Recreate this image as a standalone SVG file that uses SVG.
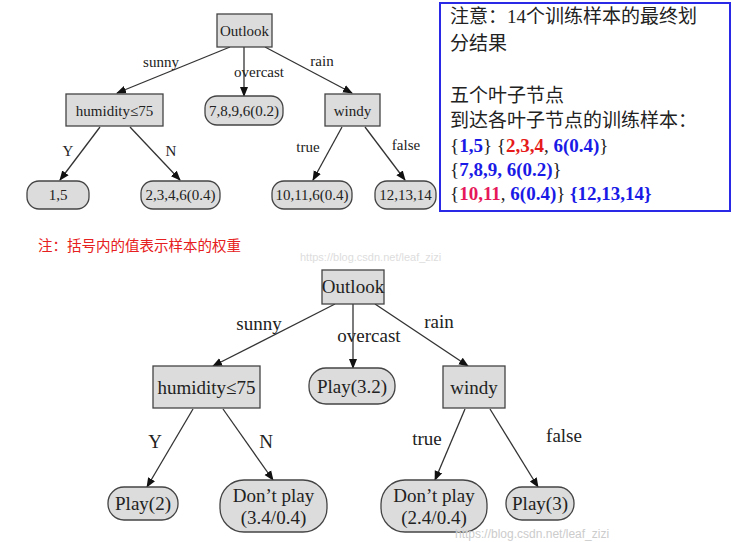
<svg xmlns="http://www.w3.org/2000/svg" width="733" height="542" viewBox="0 0 733 542">
<style>
.b{fill:#dcdcdc;stroke:#444;stroke-width:1.3}
.t{font-family:"Liberation Serif",serif;fill:#222;text-anchor:middle}
.s{font-size:15px}.L{font-size:19px}
.e{stroke:#333;stroke-width:1.3;fill:none;marker-end:url(#a)}
.cn{font-family:"Liberation Serif","Noto Sans CJK SC",serif;font-size:19px;fill:#222}
.bl{fill:#1a1ae6;font-weight:bold}.rd{fill:#e61a1a;font-weight:bold}.pk{fill:#e6185a;font-weight:bold}
</style>
<defs><marker id="a" markerWidth="10" markerHeight="10" refX="9" refY="5" orient="auto" markerUnits="userSpaceOnUse"><path d="M0,1 L10,5 L0,9 Z" fill="#111"/></marker></defs>
<rect width="733" height="542" fill="#fff"/>
<g id="connectors">
<path class="e" d="M230,47 L117,93"/><path class="e" d="M244,47 L244,96"/><path class="e" d="M265,47 L352,93"/>
<path class="e" d="M100,127 L60,180"/><path class="e" d="M130,127 L180,180"/>
<path class="e" d="M342,127 L313,180"/><path class="e" d="M365,127 L405,180"/>
<path class="e" d="M335,304 L213,366"/><path class="e" d="M353,304 L353,368"/><path class="e" d="M375,304 L468,366"/>
<path class="e" d="M193,409 L147,487"/><path class="e" d="M223,409 L273,480"/>
<path class="e" d="M465,409 L435,480"/><path class="e" d="M490,409 L538,487"/>
<g class="t s"><text x="161" y="67">sunny</text><text x="259" y="77">overcast</text><text x="322" y="66">rain</text><text x="68" y="156">Y</text><text x="171" y="156">N</text><text x="308" y="152">true</text><text x="406" y="150">false</text></g>
<g class="t L"><text x="259" y="330">sunny</text><text x="369" y="342">overcast</text><text x="439" y="328">rain</text><text x="155" y="448">Y</text><text x="266" y="448">N</text><text x="427" y="445">true</text><text x="564" y="442">false</text></g>
</g>
<g id="t-outlook"><rect class="b" x="217" y="14" width="55" height="33"/><text class="t s" x="244.5" y="36">Outlook</text></g>
<g id="t-humidity"><rect class="b" x="66" y="94" width="97" height="32"/><text class="t s" x="114.5" y="116">humidity≤75</text></g>
<g id="t-over"><rect class="b" x="205" y="96" width="78" height="29" rx="12"/><text class="t s" x="244" y="116">7,8,9,6(0.2)</text></g>
<g id="t-windy"><rect class="b" x="325" y="94" width="55" height="32"/><text class="t s" x="352.5" y="116">windy</text></g>
<g id="t-l1"><rect class="b" x="27" y="181" width="62" height="28" rx="12"/><text class="t s" x="58" y="200">1,5</text></g>
<g id="t-l2"><rect class="b" x="141" y="181" width="79" height="28" rx="12"/><text class="t s" x="180.5" y="200">2,3,4,6(0.4)</text></g>
<g id="t-l3"><rect class="b" x="272" y="181" width="80" height="28" rx="12"/><text class="t s" x="312" y="200">10,11,6(0.4)</text></g>
<g id="t-l4"><rect class="b" x="375" y="181" width="61" height="28" rx="12"/><text class="t s" x="405.5" y="200">12,13,14</text></g>
<g id="note"><rect x="440" y="3" width="290" height="208" fill="#fff" stroke="#2a2ae6" stroke-width="2"/>
<text class="cn" x="450" y="23">注意：14个训练样本的最终划</text>
<text class="cn" x="450" y="50">分结果</text>
<text class="cn" x="450" y="102">五个叶子节点</text>
<text class="cn" x="450" y="127">到达各叶子节点的训练样本：</text>
<text class="cn" x="450" y="152">{<tspan class="bl">1,5</tspan>} {<tspan class="rd">2,3,4</tspan>, <tspan class="bl">6(0.4)</tspan>}</text>
<text class="cn" x="450" y="176">{<tspan class="bl">7,8,9, 6(0.2)</tspan>}</text>
<text class="cn" x="450" y="200">{<tspan class="pk">10,11</tspan>, <tspan class="bl">6(0.4)</tspan>} <tspan class="bl">{12,13,14}</tspan></text>
</g>
<text x="38" y="251" font-family="'Noto Sans CJK SC',sans-serif" font-size="14.5" fill="#e62020">注：括号内的值表示样本的权重</text>
<text x="300" y="261" font-family="'Liberation Sans',sans-serif" font-size="11" fill="#ddd">https://blog.csdn.net/leaf_zizi</text>
<g id="b-outlook"><rect class="b" x="322" y="270" width="62" height="34"/><text class="t L" x="353" y="293">Outlook</text></g>
<g id="b-humidity"><rect class="b" x="153" y="366" width="107" height="42"/><text class="t L" x="206.5" y="394">humidity≤75</text></g>
<g id="b-play32"><rect class="b" x="309" y="368" width="86" height="36" rx="17"/><text class="t L" x="352" y="393">Play(3.2)</text></g>
<g id="b-windy"><rect class="b" x="443" y="366" width="62" height="42"/><text class="t L" x="474" y="394">windy</text></g>
<g id="b-play2"><rect class="b" x="108" y="487" width="70" height="33" rx="16"/><text class="t L" x="143" y="510">Play(2)</text></g>
<g id="b-dp1"><rect class="b" x="220" y="480" width="107" height="52" rx="24"/><text class="t L" x="273.5" y="502" font-family="'Liberation Sans',sans-serif">Don’t play</text><text class="t L" x="273.5" y="524" font-family="'Liberation Sans',sans-serif">(3.4/0.4)</text></g>
<g id="b-dp2"><rect class="b" x="381" y="480" width="106" height="52" rx="24"/><text class="t L" x="434" y="502" font-family="'Liberation Sans',sans-serif">Don’t play</text><text class="t L" x="434" y="524" font-family="'Liberation Sans',sans-serif">(2.4/0.4)</text></g>
<g id="b-play3"><rect class="b" x="506" y="487" width="68" height="33" rx="16"/><text class="t L" x="540" y="510">Play(3)</text></g>
<text x="455" y="538" font-family="'Liberation Sans',sans-serif" font-size="12" fill="#ccc">https://blog.csdn.net/leaf_zizi</text>
</svg>
